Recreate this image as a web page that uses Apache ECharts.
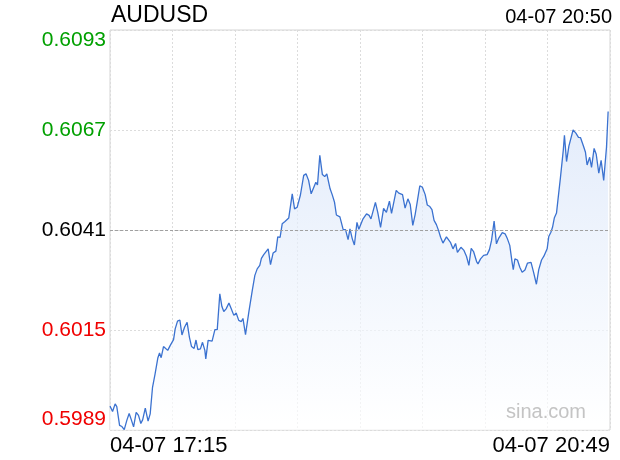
<!DOCTYPE html>
<html><head><meta charset="utf-8">
<script src="https://cdn.jsdelivr.net/npm/echarts@6/dist/echarts.min.js"></script>
<style>html,body{margin:0;padding:0;background:#fff}#c{width:620px;height:460px}</style>
</head><body><div id="c"></div>
<script>
const symbol = 'AUDUSD';
const stampTime = '04-07 20:50';
const xEndLabels = ['04-07 17:15', '04-07 20:49'];
const spanMinutes = 214;           // 17:15 -> 20:49
const basePrice = 0.6041;          // previous close / middle tick
const priceStep = 0.0026;          // tick step: 0.5989 0.6015 0.6041 0.6067 0.6093
const watermark = 'sina.com';

// minutes after 17:15
const minutes = [0,1.1,2.2,2.9,4.1,5.1,6.1,7.2,8.2,9.1,10.1,11.2,12.2,13.2,14.0,15.1,16.3,17.2,18.2,19.3,
20.5,21.2,21.9,22.9,23.6,24.7,25.8,27.2,27.9,28.9,29.9,30.8,31.9,33.0,34.0,34.9,36.0,36.8,37.6,38.7,
39.6,40.6,41.0,42.0,43.7,44.9,45.9,47.0,47.9,48.7,49.7,50.9,51.9,53.0,54.0,55.1,56.2,56.9,58.0,59.4,
60.9,62.0,63.0,64.1,64.8,65.8,67.7,68.7,69.8,71.0,71.8,72.8,73.7,74.9,76.5,77.0,78.0,79.0,80.1,81.5,
82.9,83.9,85.0,86.1,86.8,88.1,88.8,89.8,90.9,91.9,92.8,94.2,95.1,96.1,96.9,98.4,99.8,100.8,101.9,102.7,
103.7,104.6,105.7,106.5,108.3,109.8,110.9,111.7,113.6,114.6,115.8,117.1,118.3,119.6,120.5,122.5,123.6,125.2,126.3,127.5,
128.5,129.6,130.6,131.6,132.6,133.7,134.9,135.8,136.9,137.8,138.7,139.7,140.6,141.5,142.5,144.0,145.7,146.8,147.9,148.7,
150.2,151.5,152.6,153.6,154.6,155.6,156.9,157.5,158.6,159.9,161.4,162.4,163.3,164.4,165.4,166.4,167.9,169.1,170.1,171.1,
172.1,172.6,173.3,174.4,175.4,176.4,177.6,178.7,180.2,181.3,182.5,183.5,184.7,185.7,187.1,187.8,188.7,189.4,190.2,191.1,
191.7,192.8,194.0,194.5,195.4,196.4,197.2,198.2,199.4,200.5,201.4,202.7,203.5,204.2,205.3,206.1,207.2,208.1,209.2,210.2,
211.3,212.5,213.2];

// AUDUSD price
const prices = [0.59952,0.59938,0.59958,0.59951,0.59902,0.59899,0.59891,0.59915,0.59933,0.59917,0.59898,0.59936,0.59928,0.59907,0.59917,0.59947,0.59913,0.59932,0.60001,0.60036,
0.60078,0.60090,0.60078,0.60107,0.60110,0.60097,0.60110,0.60125,0.60153,0.60173,0.60176,0.60137,0.60157,0.60170,0.60131,0.60107,0.60102,0.60124,0.60099,0.60101,
0.60118,0.60097,0.60075,0.60123,0.60121,0.60151,0.60151,0.60244,0.60211,0.60198,0.60205,0.60220,0.60205,0.60188,0.60194,0.60175,0.60172,0.60180,0.60138,0.60196,
0.60253,0.60292,0.60309,0.60318,0.60336,0.60346,0.60361,0.60320,0.60350,0.60355,0.60392,0.60391,0.60426,0.60432,0.60441,0.60443,0.60504,0.60465,0.60469,0.60501,
0.60552,0.60556,0.60539,0.60504,0.60500,0.60534,0.60527,0.60604,0.60554,0.60549,0.60556,0.60517,0.60502,0.60482,0.60449,0.60444,0.60411,0.60411,0.60385,0.60413,
0.60387,0.60371,0.60430,0.60412,0.60439,0.60452,0.60448,0.60439,0.60482,0.60456,0.60417,0.60466,0.60456,0.60485,0.60453,0.60513,0.60506,0.60502,0.60467,0.60491,
0.60476,0.60422,0.60450,0.60487,0.60525,0.60521,0.60502,0.60475,0.60471,0.60463,0.60435,0.60424,0.60409,0.60391,0.60376,0.60392,0.60378,0.60361,0.60375,0.60352,
0.60365,0.60357,0.60341,0.60318,0.60362,0.60354,0.60328,0.60322,0.60335,0.60344,0.60346,0.60359,0.60383,0.60433,0.60374,0.60389,0.60403,0.60400,0.60387,0.60370,
0.60326,0.60307,0.60335,0.60332,0.60313,0.60300,0.60306,0.60324,0.60326,0.60300,0.60269,0.60307,0.60332,0.60342,0.60361,0.60393,0.60404,0.60417,0.60442,0.60454,
0.60487,0.60547,0.60617,0.60656,0.60588,0.60628,0.60623,0.60670,0.60662,0.60651,0.60650,0.60627,0.60612,0.60579,0.60599,0.60573,0.60622,0.60607,0.60558,0.60591,
0.60539,0.60625,0.60718];

const FONT = '"Liberation Sans", Arial, Helvetica, sans-serif';
const chart = echarts.init(document.getElementById('c'), null, {renderer: 'canvas'});
const seriesData = minutes.map((m, i) => [m, +(prices[i] - basePrice).toFixed(6)]);

chart.setOption({
  animation: false,
  textStyle: {fontFamily: FONT},
  title: [
    {text: symbol, left: 111, top: 4, padding: 0,
     textStyle: {fontSize: 23, fontWeight: 'normal', color: '#000', fontFamily: FONT}},
    {text: stampTime, right: 8, top: 7, padding: 0,
     textStyle: {fontSize: 20, fontWeight: 'normal', color: '#000', fontFamily: FONT}}
  ],
  grid: {left: 110, right: 10, top: 30, bottom: 30, show: true, borderColor: '#d4d4d4', borderWidth: 1},
  xAxis: {
    type: 'value', min: 0, max: spanMinutes, interval: spanMinutes / 8,
    axisLine: {show: false}, axisTick: {show: false},
    splitLine: {show: true, lineStyle: {color: '#dcdcdc', type: [2, 2], width: 1}},
    axisLabel: {
      fontSize: 22, color: '#000', margin: 5, fontFamily: FONT,
      showMinLabel: true, showMaxLabel: true,
      alignMinLabel: 'left', alignMaxLabel: 'right',
      formatter: v => (Math.abs(v) < 1e-6 ? xEndLabels[0] : (Math.abs(v - spanMinutes) < 1e-6 ? xEndLabels[1] : ''))
    }
  },
  yAxis: {
    type: 'value', min: -2 * priceStep, max: 2 * priceStep, interval: priceStep,
    axisLine: {show: false}, axisTick: {show: false},
    splitLine: {show: true, lineStyle: {color: '#dcdcdc', type: [2, 2], width: 1}},
    axisLabel: {
      fontSize: 21, margin: 4, fontFamily: FONT,
      verticalAlignMinLabel: 'bottom', verticalAlignMaxLabel: 'top',
      formatter: v => (v + basePrice).toFixed(4),
      color: v => { const n = parseFloat(v); return n > 1e-9 ? '#00a000' : (n < -1e-9 ? '#f00000' : '#000'); }
    }
  },
  graphic: [{
    type: 'text', left: 506, top: 402, silent: true, z: 100,
    style: {text: watermark, fill: '#c4c4c4', font: '20px ' + FONT}
  }],
  series: [{
    type: 'line', data: seriesData, showSymbol: false, symbol: 'none',
    lineStyle: {color: '#3b72d0', width: 1.3},
    areaStyle: {origin: 'start', color: new echarts.graphic.LinearGradient(0, 0, 0, 1, [
      {offset: 0, color: '#d6e3f8'}, {offset: 1, color: '#ffffff'}])},
    markLine: {
      silent: true, symbol: 'none', label: {show: false},
      lineStyle: {color: '#a0a0a0', type: [3, 2], width: 1},
      data: [{yAxis: 0}]
    }
  }]
});
</script></body></html>
